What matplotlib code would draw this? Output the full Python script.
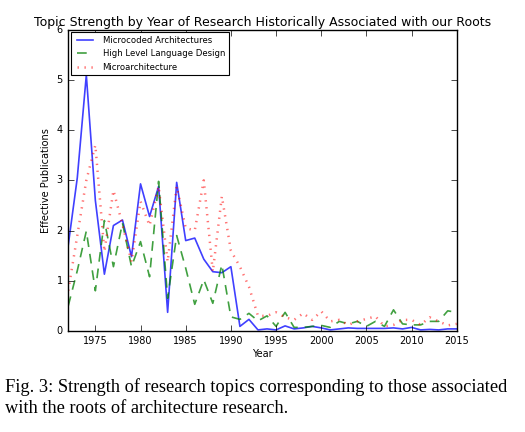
import matplotlib
matplotlib.use("Agg")
import matplotlib.pyplot as plt

years = list(range(1972, 2016))

microcoded = [1.71, 3.05, 5.1, 2.6, 1.13, 2.1, 2.21, 1.48, 2.93, 2.28,
              2.88, 0.37, 2.96, 1.8, 1.85, 1.43, 1.18, 1.16, 1.28, 0.09,
              0.23, 0.02, 0.04, 0.02, 0.1, 0.04, 0.06, 0.09, 0.06, 0.02,
              0.04, 0.06, 0.05, 0.05, 0.05, 0.05, 0.06, 0.04, 0.07, 0.02,
              0.03, 0.02, 0.04, 0.04]

high_level = [0.5, 1.2, 1.99, 0.8, 2.2, 1.28, 2.15, 1.28, 1.78, 1.08,
              2.98, 0.65, 1.9, 1.25, 0.53, 1.02, 0.55, 1.32, 0.28, 0.23,
              0.35, 0.2, 0.3, 0.09, 0.37, 0.07, 0.07, 0.09, 0.11, 0.07,
              0.19, 0.14, 0.19, 0.09, 0.19, 0.09, 0.42, 0.14, 0.12, 0.12,
              0.19, 0.19, 0.4, 0.37]

microarch = [0.8, 1.9, 3.0, 3.7, 1.58, 2.8, 2.12, 1.38, 2.58, 2.1,
             2.88, 1.38, 2.88, 2.05, 2.0, 3.0, 1.18, 2.68, 1.6, 1.28,
             0.88, 0.3, 0.3, 0.37, 0.27, 0.22, 0.35, 0.22, 0.39, 0.19,
             0.22, 0.12, 0.19, 0.24, 0.29, 0.09, 0.12, 0.22, 0.22, 0.12,
             0.27, 0.19, 0.11, 0.14]

labels = ["Microcoded Architectures", "High Level Language Design", "Microarchitecture"]
xticks = [1975, 1980, 1985, 1990, 1995, 2000, 2005, 2010, 2015]
yticks = [0, 1, 2, 3, 4, 5, 6]

plt.style.use("classic")
fig = plt.figure(figsize=(5.25, 4.32), dpi=100, facecolor="white")
ax = fig.add_axes([0.13, 0.234, 0.74, 0.697])

ax.plot(years, microcoded, color="#0000ff", alpha=0.75, lw=1.2, ls="-", label=labels[0])
ax.plot(years, high_level, color="#008000", alpha=0.75, lw=1.2, ls=(0, (7, 5)), label=labels[1])
ax.plot(years, microarch, color="#ff0000", alpha=0.55, lw=1.8, ls=(0, (1, 4)), label=labels[2])

ax.set_xlim(1972, 2015)
ax.set_ylim(0, 6)
ax.set_xticks(xticks)
ax.set_yticks(yticks)
ax.ticklabel_format(useOffset=False, style="plain")
ax.tick_params(labelsize=7, direction="in", length=4, top=True, right=True)
ax.set_xlabel("Year", fontsize=7, labelpad=2)
ax.set_ylabel("Effective Publications", fontsize=7, labelpad=4)
ax.set_title("Topic Strength by Year of Research Historically Associated with our Roots",
             fontsize=9, pad=3)

leg = ax.legend(loc="upper left", fontsize=6.1, handlelength=2.5, borderpad=0.45,
                labelspacing=0.5, frameon=True, borderaxespad=0.3)
leg.get_frame().set_edgecolor("black")
leg.get_frame().set_linewidth(0.8)

fig.text(0.01, 0.093, "Fig. 3: Strength of research topics corresponding to those associated",
         fontsize=13.2, family="Liberation Serif", ha="left", va="baseline")
fig.text(0.01, 0.044, "with the roots of architecture research.",
         fontsize=13.2, family="Liberation Serif", ha="left", va="baseline")

fig.savefig("out.png", dpi=100, facecolor="white")
